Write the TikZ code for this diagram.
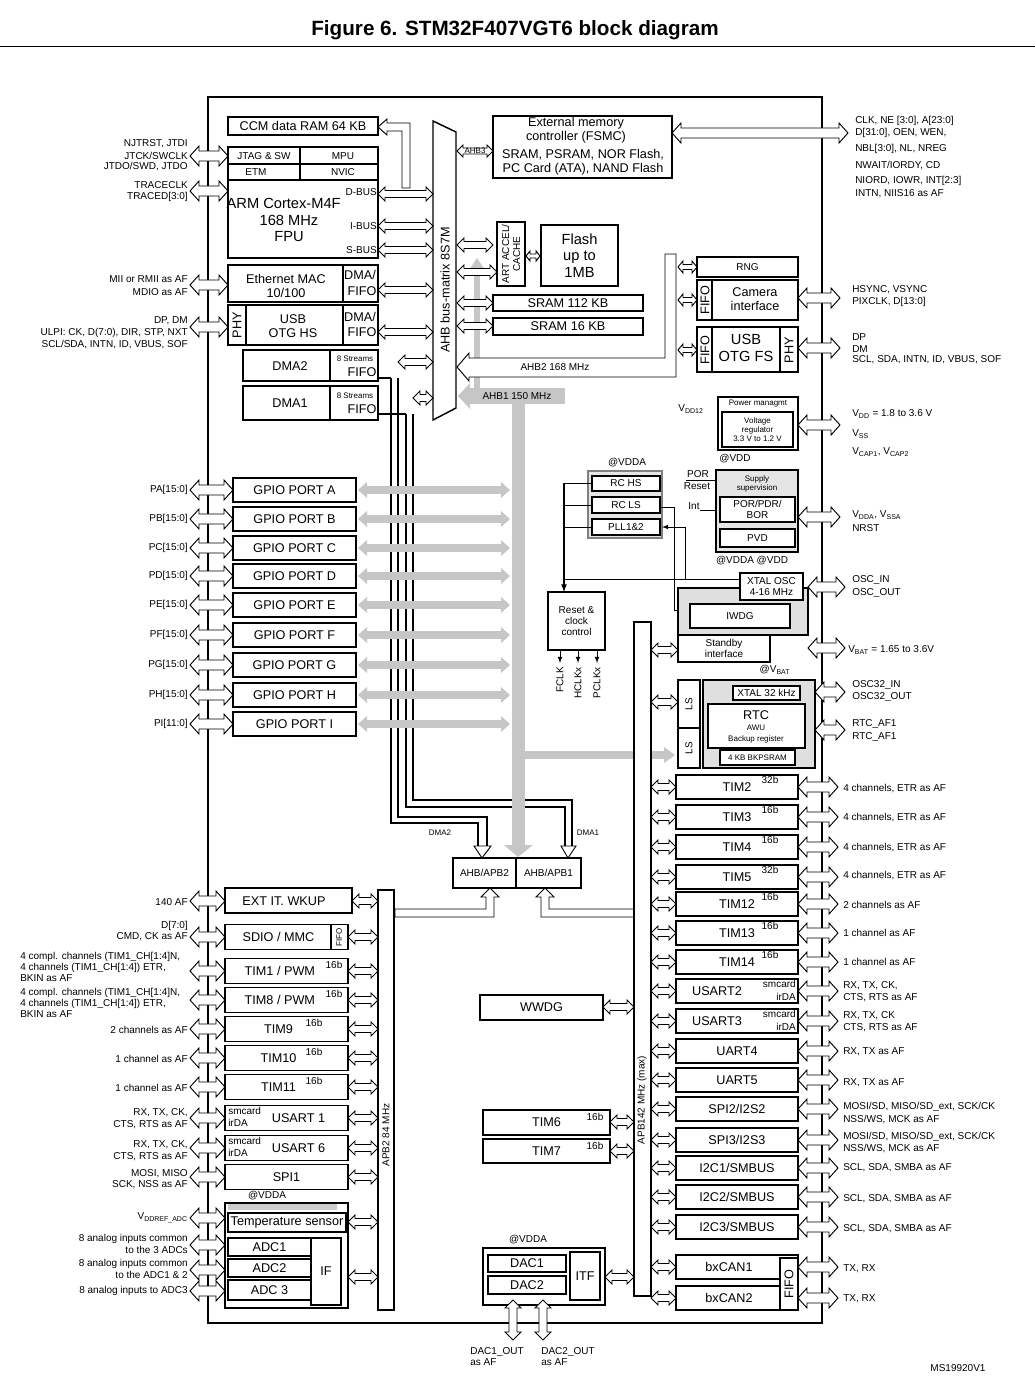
\documentclass[tikz,border=0pt]{standalone}
\usepackage{fontspec}
\setmainfont{Liberation Sans}
\newcommand\fA{\fontsize{9.5}{10.5}\selectfont}
\newcommand\fB{\fontsize{7.5}{8.3}\selectfont}
\newcommand\fC{\fontsize{6}{6.6}\selectfont}
\newcommand\fD{\fontsize{11}{12.5}\selectfont}
\newcommand\bx[7][\fA]{\draw[bxl] (#3,#4) rectangle (#5,#6); \node[align=center,font=#1] (#2) at ({(#3+#5)/2},{(#4+#6)/2}) {#7};}
\newcommand\HAR[6]{\draw[arl] (#1,#3) -- (#1+#4,#3-#5) -- (#1+#4,#3-#6) -- (#2-#4,#3-#6) -- (#2-#4,#3-#5) -- (#2,#3) -- (#2-#4,#3+#5) -- (#2-#4,#3+#6) -- (#1+#4,#3+#6) -- (#1+#4,#3+#5) -- cycle;}
\newcommand\VAR[6]{\draw[arl] (#1,#2) -- (#1+#5,#2+#4) -- (#1+#6,#2+#4) -- (#1+#6,#3-#4) -- (#1+#5,#3-#4) -- (#1,#3) -- (#1-#5,#3-#4) -- (#1-#6,#3-#4) -- (#1-#6,#2+#4) -- (#1-#5,#2+#4) -- cycle;}
\newcommand\HA[3]{\HAR{#1}{#2}{#3}{7}{7}{3.5}}
\newcommand\HB[3]{\HAR{#1}{#2}{#3}{9}{10}{5}}
\newcommand\GA[3]{\fill[gray!45] (#1+8,#3-4) rectangle (#2-8,#3+4); \fill[gray!45] (#2,#3) -- (#2-9,#3-8) -- (#2-9,#3+8) -- cycle; \fill[gray!45] (#1,#3) -- (#1+9,#3-8) -- (#1+9,#3+8) -- cycle;}
\newcommand\LL[2]{\node[font=\fB,anchor=east,align=right] at (188,#1) {#2};}
\newcommand\RL[2]{\node[font=\fB,anchor=west,align=left] at (843,#1) {#2};}
\newcommand\rbox[3]{\bx{#1}{676}{#2-12}{798}{#2+12}{#3}\HA{651}{676}{#2}\HB{798}{838}{#2}}
\newcommand\lbox[3]{\bx{#1}{225}{#2-12.5}{348}{#2+12.5}{#3}\HA{348}{378}{#2}\HB{190}{225}{#2}}
\tikzset{bxl/.style={line width=1.1pt,fill=white}, arl/.style={line width=0.7pt,fill=white,line join=miter}, every node/.style={inner sep=0pt}}
\begin{document}
\begin{tikzpicture}[x=0.75pt,y=-0.75pt]
\useasboundingbox (0,0) rectangle (1035,1392);
\node[font=\bfseries\fontsize{15.5}{16}\selectfont] (title) at (515,30) {Figure 6. STM32F407VGT6 block diagram};
\draw[line width=0.6pt] (0,46) -- (1035,46);
\draw[line width=1.5pt] (208,97) rectangle (822,1323);
% ---- top left
\bx{ccm}{228}{117}{378}{135}{CCM data RAM 64 KB}
\draw[bxl] (228,147) rectangle (378,180); \draw[line width=1.1pt] (300,147)--(300,180) (228,164)--(378,164);
\node[font=\fB] (jtag) at (264,156) {JTAG \& SW}; \node[font=\fB] (mpu) at (343,156) {MPU};
\node[font=\fB] (etm) at (256,172) {ETM}; \node[font=\fB] (nvic) at (343,172) {NVIC};
\draw[bxl] (228,180) rectangle (378,258);
\node[font=\fD,align=center] (cortex) at (289,220) {\hspace*{-8pt}ARM Cortex-M4F\\168 MHz\\FPU};
\node[font=\fB,anchor=east] (dbus) at (377,192) {D-BUS};
\node[font=\fB,anchor=east] (ibus) at (377,226) {I-BUS};
\node[font=\fB,anchor=east] (sbus) at (377,250) {S-BUS};
\bx{eth}{228}{265}{378}{302}{}
\draw[line width=1.1pt] (343,265)--(343,302);
\node[font=\fA,align=center] (ethmac) at (286,286) {Ethernet MAC\\10/100};
\node[font=\fA] at (360,275) {DMA/}; \node[font=\fA] at (362,291) {FIFO};
\bx{usbhs}{228}{305}{378}{345}{}
\draw[line width=1.1pt] (246,305)--(246,345) (343,305)--(343,345);
\node[font=\fA,rotate=90] at (237,325) {PHY};
\node[font=\fA,align=center] at (293,326) {USB\\OTG HS};
\node[font=\fA] at (360,317) {DMA/}; \node[font=\fA] at (362,332) {FIFO};
\bx{dma2}{243}{350}{378}{381}{}
\draw[line width=1.1pt] (330,350)--(330,381);
\node[font=\fA] at (290,366) {DMA2}; \node[font=\fC] at (355,359) {8 Streams}; \node[font=\fA] at (362,372) {FIFO};
\bx{dma1}{243}{386}{378}{420}{}
\draw[line width=1.1pt] (330,386)--(330,420);
\node[font=\fA] at (290,403) {DMA1}; \node[font=\fC] at (355,396) {8 Streams}; \node[font=\fA] at (362,409) {FIFO};
% left labels top
\HB{190}{228}{156}\HB{190}{228}{191}\HB{190}{228}{285}\HB{190}{228}{327}
\LL{144}{NJTRST, JTDI}\LL{156}{JTCK/SWCLK}\LL{167}{JTDO/SWD, JTDO}
\LL{185}{TRACECLK}\LL{197}{TRACED[3:0]}
\LL{279}{MII or RMII as AF}\LL{292}{MDIO as AF}
\LL{321}{DP, DM}\LL{333}{ULPI: CK, D(7:0), DIR, STP, NXT}\LL{345}{SCL/SDA, INTN, ID, VBUS, SOF}
% DMA bus lines
\draw[line width=0.8pt] (391,378)--(391,823)--(478,823)--(478,846) (398,378)--(398,817)--(487,817)--(487,846);
\draw[arl] (474,846)--(491,846)--(482,858)--cycle;
\draw[line width=0.8pt] (406,414)--(406,807)--(565,807)--(565,846) (413,414)--(413,800)--(572,800)--(572,846);
\draw[arl] (561,846)--(576,846)--(568,858)--cycle;
\draw[line width=0.8pt] (378,378)--(391,378) (378,414)--(406,414);
% matrix
\draw[line width=1.1pt,fill=white] (433,121) -- (456,132) -- (456,408) -- (433,420) -- cycle;
\node[font=\fA,rotate=90] (ahbm) at (445,290) {AHB bus-matrix 8S7M};
\HA{378}{433}{194}\HA{378}{433}{226}\HA{378}{433}{250}\HA{378}{433}{290}\HA{378}{433}{332}\HA{398}{433}{362}\HA{413}{433}{398}
\draw[arl] (378,127)--(387,119)--(387,123)--(410,123)--(410,188)--(402,188)--(402,131)--(387,131)--(387,135)--cycle;
% right of matrix
\HAR{457}{493}{151}{6}{6}{3}\node[font=\fC] at (475,151) {AHB3};
\bx{fsmc}{493}{116}{672}{178}{}
\node[font=\fA,align=center] at (576,130) {External memory\\controller (FSMC)};
\node[font=\fA,align=center] at (583,162) {SRAM, PSRAM, NOR Flash,\\PC Card (ATA), NAND Flash};
\HB{672}{848}{133}
\node[font=\fB,anchor=west,align=left] at (855,121) {CLK, NE [3:0], A[23:0]};
\node[font=\fB,anchor=west] at (855,133) {D[31:0], OEN, WEN,};
\node[font=\fB,anchor=west] at (855,149) {NBL[3:0], NL, NREG};
\node[font=\fB,anchor=west] at (855,166) {NWAIT/IORDY, CD};
\node[font=\fB,anchor=west] at (855,181) {NIORD, IOWR, INT[2:3]};
\node[font=\fB,anchor=west] at (855,194) {INTN, NIIS16 as AF};
\fill[gray!45] (474,268) rectangle (480,390); \fill[gray!45] (477,258)--(469,270)--(485,270)--cycle;
\bx[\fB]{art}{497}{222}{525}{286}{}
\node[font=\fB,rotate=90,align=center] at (511,254) {ART ACCEL/\\CACHE};
\bx[\fD]{flash}{541}{225}{618}{286}{Flash\\up to\\1MB}
\HAR{526}{540}{256}{4}{5}{2}
\bx{sram1}{493}{295}{643}{311}{SRAM 112 KB}
\bx{sram2}{493}{318}{643}{335}{SRAM 16 KB}
\HA{457}{493}{245}\HA{457}{497}{272}\HA{457}{493}{303}\HA{457}{493}{326}
\draw[arl] (457,367)--(469,353)--(469,358)--(665,358)--(665,254)--(676,254)--(676,377)--(469,377)--(469,381)--cycle;
\node[font=\fB] (ahb2) at (555,367) {AHB2 168 MHz};
% AHB1 gray
\fill[gray!45] (470,388) rectangle (565,404); \fill[gray!45] (458,396)--(470,383)--(470,409)--cycle;
\fill[gray!45] (512,404) rectangle (525,845); \fill[gray!45] (504,845)--(533,845)--(518,857)--cycle;
\node[font=\fB] (ahb1) at (517,396) {AHB1 150 MHz};
\fill[gray!45] (525,751) rectangle (664,759); \fill[gray!45] (675,755)--(664,747)--(664,763)--cycle;
% GPIO
\foreach \n/\y/\p in {A/490/PA[15:0],B/519/PB[15:0],C/548/PC[15:0],D/576/PD[15:0],E/605/PE[15:0],F/635/PF[15:0],G/665/PG[15:0],H/695/PH[15:0],I/724/PI[11:0]}{
 \GA{358}{510}{\y}
 \bx{gpio\n}{233}{\y-12}{356}{\y+12}{GPIO PORT \n}
 \HB{190}{233}{\y}
 \LL{\y}{\p}
}
% AHB/APB
\bx{ahbapb2}{453}{858}{516}{888}{\fB AHB/APB2}
\bx{ahbapb1}{516}{858}{581}{888}{\fB AHB/APB1}
\node[font=\fC] at (440,833) {DMA2}; \node[font=\fC] at (588,833) {DMA1};
\draw[arl] (490,888)--(499,897)--(494,897)--(494,917)--(395,917)--(395,909)--(486,909)--(486,897)--(481,897)--cycle;
\draw[arl] (545,888)--(554,897)--(549,897)--(549,909)--(634,909)--(634,917)--(541,917)--(541,897)--(536,897)--cycle;
% buses
\draw[bxl] (378,890) rectangle (394,1310); \node[font=\fB,rotate=90] (apb2) at (386,1135) {APB2 84 MHz};
\draw[bxl] (634,622) rectangle (651,1296); \node[font=\fB,rotate=90] (apb1) at (642,1100) {APB142 MHz (max)};
% APB2 side
\draw[bxl] (225,888) rectangle (352,913); \node[font=\fA] (ext) at (284,901) {EXT IT. WKUP}; \HA{352}{378}{901}\HB{190}{225}{901}
\lbox{sdio}{937}{\hspace*{-12pt}SDIO / MMC}
\draw[line width=1.1pt] (331,925)--(331,949); \node[font=\fC,rotate=90] at (339,937) {FIFO};
\lbox{tim1}{971}{\hspace*{-10pt}TIM1 / PWM}\lbox{tim8}{1000}{\hspace*{-10pt}TIM8 / PWM}\lbox{tim9}{1029}{\hspace*{-12pt}TIM9}\lbox{tim10}{1058}{\hspace*{-12pt}TIM10}\lbox{tim11}{1087}{\hspace*{-12pt}TIM11}
\lbox{usart1}{1118}{\hspace*{18pt}USART 1}\lbox{usart6}{1148}{\hspace*{18pt}USART 6}\lbox{spi1}{1177}{SPI1}
\foreach \y in {971,1000}{\node[font=\fB] at (334,\y-6) {16b};}
\foreach \y in {1029,1058,1087}{\node[font=\fB] at (314,\y-6) {16b};}
\foreach \y in {1118,1148}{\node[font=\fB,anchor=west] at (228,\y-7) {smcard}; \node[font=\fB,anchor=west] at (228,\y+5) {irDA};}
\LL{902}{140 AF}\LL{926}{D[7:0]}\LL{937}{CMD, CK as AF}
\node[font=\fB,anchor=west,align=left] at (20,967) {4 compl. channels (TIM1\_CH[1:4]N,\\4 channels (TIM1\_CH[1:4]) ETR,\\BKIN as AF};
\node[font=\fB,anchor=west,align=left] at (20,1003) {4 compl. channels (TIM1\_CH[1:4]N,\\4 channels (TIM1\_CH[1:4]) ETR,\\BKIN as AF};
\LL{1030}{2 channels as AF}\LL{1059}{1 channel as AF}\LL{1088}{1 channel as AF}
\LL{1113}{RX, TX, CK,}\LL{1125}{CTS, RTS as AF}\LL{1145}{RX, TX, CK,}\LL{1157}{CTS, RTS as AF}
\LL{1174}{MOSI, MISO}\LL{1185}{SCK, NSS as AF}
\LL{1218}{V\textsubscript{DDREF\_ADC}}
\LL{1239}{8 analog inputs common}\LL{1250}{to the 3 ADCs}\LL{1264}{8 analog inputs common}\LL{1275}{to the ADC1 \& 2}\LL{1291}{8 analog inputs to ADC3}
\node[font=\fB] at (267,1196) {@VDDA};
\draw[bxl] (225,1203) rectangle (348,1308);
\fill[gray!40] (228,1204) rectangle (337,1210);
\bx{temp}{228}{1213}{346}{1232}{Temperature sensor}
\bx{adc1}{228}{1238}{311}{1256}{ADC1}\bx{adc2}{228}{1259}{311}{1277}{ADC2}\bx{adc3}{228}{1280}{311}{1300}{ADC 3}
\bx{adcif}{311}{1238}{341}{1305}{IF}
\HA{348}{378}{1222}\HA{348}{378}{1277}
\HB{190}{225}{1218}\HB{190}{225}{1245}\HB{190}{225}{1270}\HB{190}{225}{1291}
% middle
\bx{wwdg}{480}{995}{603}{1020}{WWDG}\HA{603}{634}{1007}
\bx{tim6}{483}{1110}{610}{1135}{TIM6}\node[font=\fB] at (595,1117) {16b};\HA{610}{634}{1122}
\bx{tim7}{483}{1139}{610}{1163}{TIM7}\node[font=\fB] at (595,1146) {16b};\HA{610}{634}{1151}
\node[font=\fB] at (528,1240) {@VDDA};
\draw[bxl] (483,1248) rectangle (605,1305);
\bx{dac1}{488}{1255}{566}{1272}{DAC1}\bx{dac2}{488}{1276}{566}{1294}{DAC2}\bx{itf}{570}{1252}{600}{1300}{ITF}
\HA{605}{634}{1277}
\VAR{513}{1300}{1340}{8}{8}{4}\VAR{543}{1300}{1340}{8}{8}{4}
\node[font=\fB,align=left] at (497,1357) {DAC1\_OUT\\as AF};
\node[font=\fB,align=left] at (568,1357) {DAC2\_OUT\\as AF};
% right upper
\bx[\fB]{rng}{697}{257}{798}{277}{RNG}
\bx{cam}{697}{280}{798}{320}{}\draw[line width=1.1pt] (712,280)--(712,320);
\node[font=\fA,rotate=90] at (705,300) {FIFO}; \node[font=\fA,align=center] at (755,299) {Camera\\interface};
\bx{usbfs}{697}{327}{798}{372}{}\draw[line width=1.1pt] (712,327)--(712,372) (780,327)--(780,372);
\node[font=\fA,rotate=90] at (705,350) {FIFO}; \node[font=\fA,rotate=90] at (789,350) {PHY}; \node[font=\fD,align=center] at (746,348) {USB\\OTG FS};
\HAR{678}{697}{267}{5}{6}{2.5}\HAR{678}{697}{300}{5}{6}{2.5}\HAR{678}{697}{350}{5}{6}{2.5}
\HB{798}{840}{298}\HB{798}{840}{348}
\node[font=\fB,anchor=west] at (852,290) {HSYNC, VSYNC}; \node[font=\fB,anchor=west] at (852,302) {PIXCLK, D[13:0]};
\node[font=\fB,anchor=west] at (852,337) {DP}; \node[font=\fB,anchor=west] at (852,349) {DM}; \node[font=\fB,anchor=west] at (852,360) {SCL, SDA, INTN, ID, VBUS, SOF};
% power
\draw[bxl] (718,397) rectangle (798,450); \node[font=\fC] (pwr) at (758,404) {Power managmt};
\bx[\fC]{vreg}{722}{412}{793}{447}{Voltage\\regulator\\3.3 V to 1.2 V}
\node[font=\fB] at (691,409) {V\textsubscript{DD12}};
\HB{798}{840}{425}
\node[font=\fB,anchor=west] at (852,414) {V\textsubscript{DD} = 1.8 to 3.6 V};
\node[font=\fB,anchor=west] at (852,434) {V\textsubscript{SS}};
\node[font=\fB,anchor=west] at (852,452) {V\textsubscript{CAP1}, V\textsubscript{CAP2}};
\node[font=\fB] at (735,459) {@VDD};
\draw[line width=1.1pt,fill=gray!20] (716,470) rectangle (798,552);
\node[font=\fC,align=center] (sup) at (757,484) {Supply\\supervision};
\bx[\fB]{por}{720}{497}{795}{522}{POR/PDR/\\BOR}
\bx[\fB]{pvd}{720}{529}{795}{547}{PVD}
\node[font=\fB] at (698,474) {POR}; \node[font=\fB] at (697,486) {Reset}; \node[font=\fB] at (694,506) {Int};
\draw[line width=0.6pt] (686,480)--(716,480) (700,510)--(716,510);
\HB{798}{840}{517}
\node[font=\fB,anchor=west] at (852,515) {V\textsubscript{DDA}, V\textsubscript{SSA}}; \node[font=\fB,anchor=west] at (852,528) {NRST};
% clocks
\node[font=\fB] at (627,463) {@VDDA};
\draw[line width=1.1pt,draw=gray,fill=gray!20] (588,471) rectangle (662,538);
\bx[\fB]{rchs}{592}{476}{660}{491}{RC HS}\bx[\fB]{rcls}{592}{497}{660}{513}{RC LS}\bx[\fB]{pll}{592}{519}{660}{535}{PLL1\&2}
\bx[\fB]{rcc}{548}{592}{605}{650}{Reset \&\\clock\\control}
\draw[line width=1pt,-{latex}] (564,483)--(564,592);
\draw[line width=0.6pt] (564,483)--(592,483) (564,505)--(592,505) (564,527)--(592,527) (564,579)--(740,579);
\draw[line width=0.6pt,-latex] (685,579)--(685,527)--(662,527);
\draw[line width=0.6pt,-latex] (660,507)--(674,507)--(674,610)--(690,610);
\foreach \x/\t in {560/FCLK,578/HCLKx,597/PCLKx}{\draw[line width=0.6pt,-latex] (\x,650)--(\x,663); \node[font=\fB,rotate=90,anchor=east] at (\x,667) {\t};}
\node[font=\fB] at (752,561) {@VDDA @VDD};
\draw[line width=1.1pt,fill=gray!25] (678,588) rectangle (808,635);
\bx[\fB]{xosc}{740}{573}{803}{600}{XTAL OSC\\4-16 MHz}
\bx[\fB]{iwdg}{690}{604}{790}{628}{IWDG}
\bx[\fB]{stby}{678}{635}{770}{662}{Standby\\interface}
\HA{651}{678}{650}\HB{808}{845}{587}\HB{808}{845}{648}
\node[font=\fB,anchor=west] at (852,580) {OSC\_IN}; \node[font=\fB,anchor=west] at (852,593) {OSC\_OUT};
\node[font=\fB,anchor=west] at (848,650) {V\textsubscript{BAT} = 1.65 to 3.6V};
\node[font=\fB] at (775,670) {@V\textsubscript{BAT}};
\draw[line width=1.1pt,fill=gray!25] (703,680) rectangle (815,768);
\bx[\fB]{x32}{733}{686}{800}{700}{XTAL 32 kHz}
\bx[\fB]{ls1}{678}{680}{700}{728}{}\node[font=\fB,rotate=90] at (689,704) {LS};
\bx[\fB]{ls2}{678}{728}{700}{768}{}\node[font=\fB,rotate=90] at (689,748) {LS};
\draw[bxl] (708,704) rectangle (805,748);
\node[font=\fA] (rtc) at (756,715) {RTC}; \node[font=\fC] at (756,728) {AWU}; \node[font=\fC] at (756,739) {Backup register};
\bx[\fC]{bkp}{720}{750}{795}{765}{4 KB BKPSRAM}
\HA{651}{678}{702}\HB{815}{845}{692}\HB{815}{845}{730}
\node[font=\fB,anchor=west] at (852,685) {OSC32\_IN}; \node[font=\fB,anchor=west] at (852,697) {OSC32\_OUT};
\node[font=\fB,anchor=west] at (852,724) {RTC\_AF1}; \node[font=\fB,anchor=west] at (852,737) {RTC\_AF1};
% APB1 boxes
\rbox{tim2}{787}{TIM2}\rbox{tim3}{817}{TIM3}\rbox{tim4}{847}{TIM4}\rbox{tim5}{877}{TIM5}
\rbox{tim12}{904}{TIM12}\rbox{tim13}{933}{TIM13}\rbox{tim14}{962}{TIM14}
\rbox{usart2}{991}{\hspace*{-30pt}USART2}\rbox{usart3}{1021}{\hspace*{-30pt}USART3}
\rbox{uart4}{1051}{UART4}\rbox{uart5}{1080}{UART5}\rbox{spi2}{1109}{SPI2/I2S2}\rbox{spi3}{1140}{SPI3/I2S3}
\rbox{i2c1}{1168}{I2C1/SMBUS}\rbox{i2c2}{1197}{I2C2/SMBUS}\rbox{i2c3}{1227}{I2C3/SMBUS}
\rbox{can1}{1267}{\hspace*{-12pt}bxCAN1}\rbox{can2}{1298}{\hspace*{-12pt}bxCAN2}
\draw[bxl] (780,1258) rectangle (798,1310); \node[font=\fA,rotate=90] at (789,1284) {FIFO};
\foreach \y/\b in {787/32b,817/16b,847/16b,877/32b,904/16b,933/16b,962/16b}{\node[font=\fB] at (770,\y-7) {\b};}
\foreach \y in {991,1021}{\node[font=\fB,anchor=east] at (796,\y-7) {smcard}; \node[font=\fB,anchor=east] at (796,\y+6) {irDA};}
\RL{789}{4 channels, ETR as AF}\RL{818}{4 channels, ETR as AF}\RL{848}{4 channels, ETR as AF}\RL{876}{4 channels, ETR as AF}
\RL{905}{2 channels as AF}\RL{933}{1 channel as AF}\RL{962}{1 channel as AF}
\RL{986}{RX, TX, CK,}\RL{998}{CTS, RTS as AF}\RL{1016}{RX, TX, CK}\RL{1028}{CTS, RTS as AF}
\RL{1052}{RX, TX as AF}\RL{1083}{RX, TX as AF}
\RL{1107}{MOSI/SD, MISO/SD\_ext, SCK/CK}\RL{1120}{NSS/WS, MCK as AF}\RL{1137}{MOSI/SD, MISO/SD\_ext, SCK/CK}\RL{1149}{NSS/WS, MCK as AF}
\RL{1168}{SCL, SDA, SMBA as AF}\RL{1199}{SCL, SDA, SMBA as AF}\RL{1229}{SCL, SDA, SMBA as AF}
\RL{1269}{TX, RX}\RL{1299}{TX, RX}
\node[font=\fB] (ms) at (958,1368) {MS19920V1};
\end{tikzpicture}
\end{document}
